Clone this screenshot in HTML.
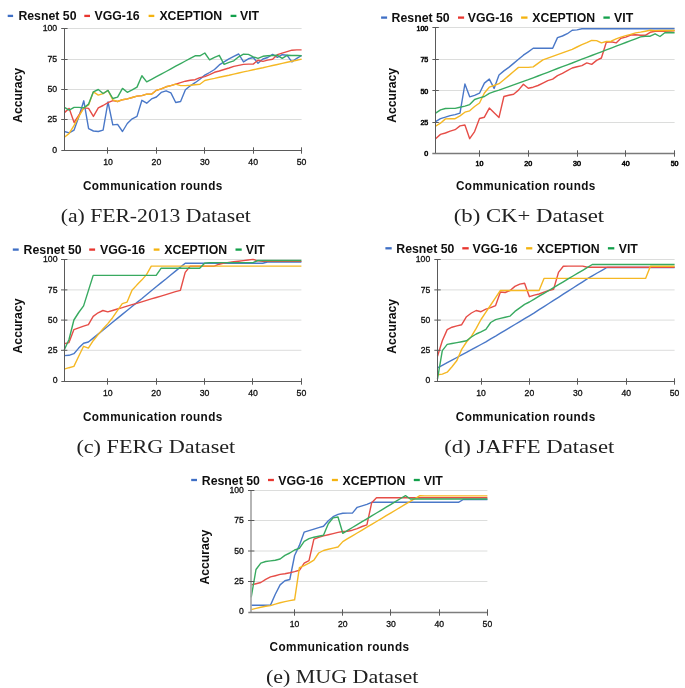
<!DOCTYPE html>
<html><head><meta charset="utf-8"><title>Accuracy vs communication rounds</title>
<style>html,body{margin:0;padding:0;background:#fff;overflow:hidden;}svg{display:block;}</style>
</head><body>
<svg width="685" height="688" viewBox="0 0 685 688">
<rect width="685" height="688" fill="#fff"/>
<g>
<line x1="64.4" y1="119.5" x2="301.6" y2="119.5" stroke="#dcdddc" stroke-width="1"/>
<line x1="64.4" y1="89.5" x2="301.6" y2="89.5" stroke="#dcdddc" stroke-width="1"/>
<line x1="64.4" y1="59.5" x2="301.6" y2="59.5" stroke="#dcdddc" stroke-width="1"/>
<line x1="64.4" y1="28.5" x2="301.6" y2="28.5" stroke="#dcdddc" stroke-width="1"/>
<text x="57.2" y="152.6" font-family="Liberation Sans" font-size="8.7" font-weight="normal" fill="#0f0f0f" stroke="#0f0f0f" stroke-width="0.3" text-anchor="end">0</text>
<text x="57.2" y="122.2" font-family="Liberation Sans" font-size="8.7" font-weight="normal" fill="#0f0f0f" stroke="#0f0f0f" stroke-width="0.3" text-anchor="end">25</text>
<text x="57.2" y="91.9" font-family="Liberation Sans" font-size="8.7" font-weight="normal" fill="#0f0f0f" stroke="#0f0f0f" stroke-width="0.3" text-anchor="end">50</text>
<text x="57.2" y="61.5" font-family="Liberation Sans" font-size="8.7" font-weight="normal" fill="#0f0f0f" stroke="#0f0f0f" stroke-width="0.3" text-anchor="end">75</text>
<text x="57.2" y="31.1" font-family="Liberation Sans" font-size="8.7" font-weight="normal" fill="#0f0f0f" stroke="#0f0f0f" stroke-width="0.3" text-anchor="end">100</text>
<text x="108.0" y="165.1" font-family="Liberation Sans" font-size="8.7" font-weight="normal" fill="#0f0f0f" stroke="#0f0f0f" stroke-width="0.3" text-anchor="middle">10</text>
<text x="156.4" y="165.1" font-family="Liberation Sans" font-size="8.7" font-weight="normal" fill="#0f0f0f" stroke="#0f0f0f" stroke-width="0.3" text-anchor="middle">20</text>
<text x="204.8" y="165.1" font-family="Liberation Sans" font-size="8.7" font-weight="normal" fill="#0f0f0f" stroke="#0f0f0f" stroke-width="0.3" text-anchor="middle">30</text>
<text x="253.2" y="165.1" font-family="Liberation Sans" font-size="8.7" font-weight="normal" fill="#0f0f0f" stroke="#0f0f0f" stroke-width="0.3" text-anchor="middle">40</text>
<text x="301.6" y="165.1" font-family="Liberation Sans" font-size="8.7" font-weight="normal" fill="#0f0f0f" stroke="#0f0f0f" stroke-width="0.3" text-anchor="middle">50</text>
<polyline points="64.4,131.5 69.2,132.9 74.1,130.1 78.9,116.4 83.8,100.8 88.6,128.7 93.4,131.0 98.3,131.5 103.1,130.1 108.0,102.0 112.8,124.9 117.6,124.4 122.5,131.5 127.3,123.5 132.2,118.8 137.0,116.4 141.9,100.3 146.7,103.2 151.5,98.9 156.4,97.0 161.2,92.4 166.1,90.8 170.9,92.9 175.7,102.5 180.6,101.5 185.4,89.8 190.3,85.8 195.1,82.7 199.9,79.2 204.8,75.1 209.6,72.5 214.5,69.5 219.3,64.9 224.1,61.9 229.0,58.8 233.8,56.3 238.7,54.0 243.5,61.9 248.4,58.8 253.2,57.5 258.0,63.3 262.9,59.0 267.7,57.5 272.6,54.4 277.4,57.3 282.2,54.7 287.1,55.3 291.9,61.9 296.8,58.3 301.6,55.5" fill="none" stroke="#4a78c8" stroke-width="1.4" stroke-linejoin="round"/>
<polyline points="64.4,112.6 69.2,108.4 74.1,122.5 78.9,115.2 83.8,107.9 88.6,108.4 93.4,116.4 98.3,107.9 103.1,105.5 108.0,102.7 112.8,100.6 117.6,101.5 122.5,99.7 127.3,98.9 132.2,97.5 137.0,96.1 141.9,95.6 146.7,94.2 151.5,94.2 156.4,90.3 161.2,88.8 166.1,86.8 170.9,85.6 175.7,84.2 180.6,82.7 185.4,81.2 190.3,80.2 195.1,79.7 199.9,77.6 204.8,76.6 209.6,74.6 214.5,72.3 219.3,71.0 224.1,69.5 229.0,68.0 233.8,66.4 238.7,65.4 243.5,64.4 248.4,64.1 253.2,64.1 258.0,60.3 262.9,61.4 267.7,60.1 272.6,59.3 277.4,54.7 282.2,53.2 287.1,51.7 291.9,50.2 296.8,49.9 301.6,49.9" fill="none" stroke="#e64d47" stroke-width="1.4" stroke-linejoin="round"/>
<polyline points="64.4,137.2 69.2,133.4 74.1,125.4 78.9,116.4 83.8,107.9 88.6,105.0 93.4,91.8 98.3,95.1 103.1,93.6 108.0,90.5 112.8,99.9 117.6,101.5 122.5,99.7 127.3,98.9 132.2,97.5 137.0,96.1 141.9,95.6 146.7,94.2 151.5,94.2 156.4,90.3 161.2,88.8 166.1,86.8 170.9,85.6 175.7,84.2 180.6,85.6 185.4,85.6 190.3,85.3 195.1,84.7 199.9,84.2 204.8,80.5 209.6,79.4 214.5,78.4 219.3,77.3 224.1,76.2 229.0,75.2 233.8,74.1 238.7,73.0 243.5,71.9 248.4,70.9 253.2,69.8 258.0,68.7 262.9,67.7 267.7,66.6 272.6,65.5 277.4,64.5 282.2,63.4 287.1,62.3 291.9,61.2 296.8,60.2 301.6,59.1" fill="none" stroke="#f5b824" stroke-width="1.4" stroke-linejoin="round"/>
<polyline points="64.4,107.4 69.2,110.1 74.1,107.4 78.9,107.4 83.8,107.9 88.6,104.1 93.4,91.8 98.3,89.5 103.1,93.5 108.0,90.4 112.8,98.5 117.6,97.1 122.5,88.4 127.3,92.3 132.2,89.9 137.0,87.1 141.9,75.7 146.7,81.9 151.5,79.3 156.4,76.7 161.2,74.1 166.1,71.5 170.9,68.9 175.7,66.2 180.6,63.6 185.4,61.0 190.3,58.4 195.1,55.8 199.9,55.8 204.8,53.0 209.6,59.8 214.5,57.3 219.3,55.3 224.1,64.4 229.0,62.4 233.8,60.8 238.7,56.8 243.5,54.2 248.4,54.4 253.2,56.8 258.0,58.4 262.9,56.3 267.7,55.8 272.6,55.5 277.4,55.3 282.2,58.3 287.1,55.3 291.9,55.5 296.8,55.5 301.6,55.8" fill="none" stroke="#38aa60" stroke-width="1.4" stroke-linejoin="round"/>
<line x1="64.5" y1="28.0" x2="64.5" y2="151.0" stroke="#5a5a5a" stroke-width="1.0"/>
<line x1="61.3" y1="150.5" x2="302.1" y2="150.5" stroke="#5a5a5a" stroke-width="1"/>
<line x1="61.2" y1="119.5" x2="67.6" y2="119.5" stroke="#5a5a5a" stroke-width="1"/>
<line x1="61.2" y1="89.5" x2="67.6" y2="89.5" stroke="#5a5a5a" stroke-width="1"/>
<line x1="61.2" y1="59.5" x2="67.6" y2="59.5" stroke="#5a5a5a" stroke-width="1"/>
<line x1="61.2" y1="28.5" x2="67.6" y2="28.5" stroke="#5a5a5a" stroke-width="1"/>
<line x1="107.5" y1="147.3" x2="107.5" y2="153.7" stroke="#5a5a5a" stroke-width="1"/>
<line x1="156.5" y1="147.3" x2="156.5" y2="153.7" stroke="#5a5a5a" stroke-width="1"/>
<line x1="204.5" y1="147.3" x2="204.5" y2="153.7" stroke="#5a5a5a" stroke-width="1"/>
<line x1="253.5" y1="147.3" x2="253.5" y2="153.7" stroke="#5a5a5a" stroke-width="1"/>
<line x1="301.5" y1="147.3" x2="301.5" y2="153.7" stroke="#5a5a5a" stroke-width="1"/>
<line x1="7.7" y1="15.9" x2="13.1" y2="15.9" stroke="#3f6fc5" stroke-width="2.3"/>
<text x="18.4" y="20.1" font-family="Liberation Sans" font-size="12.3" font-weight="bold" fill="#0f0f0f">Resnet 50</text>
<line x1="84.3" y1="15.9" x2="90.0" y2="15.9" stroke="#e8362f" stroke-width="2.3"/>
<text x="94.5" y="20.1" font-family="Liberation Sans" font-size="12.3" font-weight="bold" fill="#0f0f0f">VGG-16</text>
<line x1="148.6" y1="15.9" x2="154.3" y2="15.9" stroke="#f4b30f" stroke-width="2.3"/>
<text x="159.4" y="20.1" font-family="Liberation Sans" font-size="12.3" font-weight="bold" fill="#0f0f0f">XCEPTION</text>
<line x1="230.6" y1="15.9" x2="236.4" y2="15.9" stroke="#13a04b" stroke-width="2.3"/>
<text x="240.0" y="20.1" font-family="Liberation Sans" font-size="12.3" font-weight="bold" fill="#0f0f0f">VIT</text>
<text transform="translate(21.9,95.3) rotate(-90)" font-family="Liberation Sans" font-size="12.2" font-weight="bold" fill="#0f0f0f" text-anchor="middle">Accuracy</text>
<text transform="translate(82.9,189.7) scale(0.94,1)" x="0" y="0" font-family="Liberation Sans" font-size="12.5" font-weight="bold" fill="#0f0f0f" textLength="148.3" lengthAdjust="spacing">Communication rounds</text>
<text x="60.7" y="221.8" font-family="Liberation Serif" font-size="18" fill="#222" textLength="190.1" lengthAdjust="spacingAndGlyphs">(a) FER-2013 Dataset</text>
</g>
<g>
<line x1="435.6" y1="122.5" x2="674.6" y2="122.5" stroke="#dcdddc" stroke-width="1"/>
<line x1="435.6" y1="90.5" x2="674.6" y2="90.5" stroke="#dcdddc" stroke-width="1"/>
<line x1="435.6" y1="59.5" x2="674.6" y2="59.5" stroke="#dcdddc" stroke-width="1"/>
<line x1="435.6" y1="27.5" x2="674.6" y2="27.5" stroke="#dcdddc" stroke-width="1"/>
<text x="428.3" y="156.4" font-family="Liberation Sans" font-size="7.1" font-weight="normal" fill="#0f0f0f" stroke="#0f0f0f" stroke-width="0.6" text-anchor="end">0</text>
<text x="428.3" y="125.0" font-family="Liberation Sans" font-size="7.1" font-weight="normal" fill="#0f0f0f" stroke="#0f0f0f" stroke-width="0.6" text-anchor="end">25</text>
<text x="428.3" y="93.5" font-family="Liberation Sans" font-size="7.1" font-weight="normal" fill="#0f0f0f" stroke="#0f0f0f" stroke-width="0.6" text-anchor="end">50</text>
<text x="428.3" y="62.1" font-family="Liberation Sans" font-size="7.1" font-weight="normal" fill="#0f0f0f" stroke="#0f0f0f" stroke-width="0.6" text-anchor="end">75</text>
<text x="428.3" y="30.7" font-family="Liberation Sans" font-size="7.1" font-weight="normal" fill="#0f0f0f" stroke="#0f0f0f" stroke-width="0.6" text-anchor="end">100</text>
<text x="479.5" y="165.9" font-family="Liberation Sans" font-size="7.1" font-weight="normal" fill="#0f0f0f" stroke="#0f0f0f" stroke-width="0.6" text-anchor="middle">10</text>
<text x="528.3" y="165.9" font-family="Liberation Sans" font-size="7.1" font-weight="normal" fill="#0f0f0f" stroke="#0f0f0f" stroke-width="0.6" text-anchor="middle">20</text>
<text x="577.0" y="165.9" font-family="Liberation Sans" font-size="7.1" font-weight="normal" fill="#0f0f0f" stroke="#0f0f0f" stroke-width="0.6" text-anchor="middle">30</text>
<text x="625.8" y="165.9" font-family="Liberation Sans" font-size="7.1" font-weight="normal" fill="#0f0f0f" stroke="#0f0f0f" stroke-width="0.6" text-anchor="middle">40</text>
<text x="674.6" y="165.9" font-family="Liberation Sans" font-size="7.1" font-weight="normal" fill="#0f0f0f" stroke="#0f0f0f" stroke-width="0.6" text-anchor="middle">50</text>
<polyline points="435.6,121.7 440.5,118.7 445.4,117.2 450.2,115.6 455.1,114.6 460.0,113.1 464.9,84.0 469.7,96.8 474.6,95.3 479.5,93.2 484.4,83.1 489.3,79.1 494.1,88.4 499.0,75.0 503.9,70.9 508.8,67.4 513.6,63.4 518.5,59.3 523.4,55.2 528.3,51.8 533.2,48.3 538.0,48.3 542.9,48.3 547.8,48.3 552.7,48.3 557.5,37.6 562.4,36.0 567.3,33.7 572.2,30.2 577.0,29.9 581.9,28.8 586.8,28.8 591.7,28.8 596.6,28.8 601.4,28.8 606.3,28.8 611.2,28.8 616.1,28.8 620.9,28.8 625.8,28.8 630.7,28.8 635.6,28.8 640.5,28.8 645.3,28.8 650.2,28.8 655.1,28.8 660.0,28.8 664.8,28.8 669.7,28.8 674.6,28.8" fill="none" stroke="#4a78c8" stroke-width="1.4" stroke-linejoin="round"/>
<polyline points="435.6,138.7 440.5,134.4 445.4,133.0 450.2,131.1 455.1,129.7 460.0,125.9 464.9,125.0 469.7,138.7 474.6,131.6 479.5,118.5 484.4,117.2 489.3,108.1 494.1,112.8 499.0,117.4 503.9,96.5 508.8,95.3 513.6,94.2 518.5,90.1 523.4,84.3 528.3,88.2 533.2,87.2 538.0,85.5 542.9,83.1 547.8,80.6 552.7,79.1 557.5,75.6 562.4,73.3 567.3,70.7 572.2,68.0 577.0,66.8 581.9,65.6 586.8,62.9 591.7,64.4 596.6,60.4 601.4,58.0 606.3,42.3 611.2,41.8 616.1,42.9 620.9,38.3 625.8,37.1 630.7,35.0 635.6,34.7 640.5,35.3 645.3,35.3 650.2,32.3 655.1,31.2 660.0,31.2 664.8,31.2 669.7,31.0 674.6,30.8" fill="none" stroke="#e64d47" stroke-width="1.4" stroke-linejoin="round"/>
<polyline points="435.6,126.1 440.5,123.2 445.4,118.9 450.2,118.8 455.1,118.7 460.0,115.9 464.9,112.2 469.7,110.8 474.6,106.5 479.5,103.0 484.4,93.0 489.3,87.2 494.1,85.5 499.0,83.7 503.9,79.7 508.8,75.6 513.6,71.5 518.5,67.4 523.4,67.4 528.3,67.4 533.2,66.9 538.0,63.4 542.9,59.9 547.8,58.1 552.7,56.4 557.5,54.7 562.4,52.9 567.3,51.2 572.2,49.4 577.0,47.0 581.9,44.7 586.8,42.7 591.7,40.4 596.6,40.6 601.4,42.9 606.3,41.5 611.2,41.2 616.1,38.9 620.9,37.1 625.8,35.7 630.7,34.3 635.6,32.9 640.5,32.1 645.3,31.2 650.2,30.3 655.1,30.6 660.0,30.5 664.8,30.5 669.7,30.5 674.6,30.5" fill="none" stroke="#f5b824" stroke-width="1.4" stroke-linejoin="round"/>
<polyline points="435.6,113.2 440.5,109.9 445.4,108.5 450.2,108.4 455.1,108.4 460.0,107.3 464.9,106.1 469.7,104.6 474.6,99.5 479.5,97.9 484.4,96.5 489.3,93.3 494.1,91.6 499.0,90.1 503.9,88.4 508.8,86.6 513.6,84.9 518.5,83.1 523.4,81.4 528.3,79.7 533.2,77.8 538.0,76.0 542.9,74.1 547.8,72.3 552.7,70.4 557.5,68.5 562.4,66.7 567.3,64.8 572.2,63.0 577.0,61.1 581.9,59.2 586.8,57.4 591.7,55.5 596.6,53.6 601.4,51.8 606.3,49.9 611.2,48.1 616.1,46.2 620.9,44.3 625.8,42.5 630.7,40.6 635.6,38.8 640.5,36.9 645.3,36.2 650.2,36.2 655.1,33.8 660.0,36.5 664.8,32.7 669.7,32.5 674.6,32.7" fill="none" stroke="#38aa60" stroke-width="1.4" stroke-linejoin="round"/>
<line x1="435.5" y1="27.0" x2="435.5" y2="154.0" stroke="#5a5a5a" stroke-width="1.0"/>
<line x1="432.3" y1="153.5" x2="675.1" y2="153.5" stroke="#7a7a7a" stroke-width="1.3"/>
<line x1="432.4" y1="122.5" x2="438.8" y2="122.5" stroke="#5a5a5a" stroke-width="1"/>
<line x1="432.4" y1="90.5" x2="438.8" y2="90.5" stroke="#5a5a5a" stroke-width="1"/>
<line x1="432.4" y1="59.5" x2="438.8" y2="59.5" stroke="#5a5a5a" stroke-width="1"/>
<line x1="432.4" y1="27.5" x2="438.8" y2="27.5" stroke="#5a5a5a" stroke-width="1"/>
<line x1="479.5" y1="150.3" x2="479.5" y2="156.7" stroke="#5a5a5a" stroke-width="1"/>
<line x1="528.5" y1="150.3" x2="528.5" y2="156.7" stroke="#5a5a5a" stroke-width="1"/>
<line x1="577.5" y1="150.3" x2="577.5" y2="156.7" stroke="#5a5a5a" stroke-width="1"/>
<line x1="625.5" y1="150.3" x2="625.5" y2="156.7" stroke="#5a5a5a" stroke-width="1"/>
<line x1="674.5" y1="150.3" x2="674.5" y2="156.7" stroke="#5a5a5a" stroke-width="1"/>
<line x1="381.1" y1="17.6" x2="387.1" y2="17.6" stroke="#3f6fc5" stroke-width="2.3"/>
<text x="391.6" y="21.9" font-family="Liberation Sans" font-size="12.3" font-weight="bold" fill="#0f0f0f">Resnet 50</text>
<line x1="458.0" y1="17.6" x2="464.1" y2="17.6" stroke="#e8362f" stroke-width="2.3"/>
<text x="467.8" y="21.9" font-family="Liberation Sans" font-size="12.3" font-weight="bold" fill="#0f0f0f">VGG-16</text>
<line x1="521.1" y1="17.6" x2="527.5" y2="17.6" stroke="#f4b30f" stroke-width="2.3"/>
<text x="532.3" y="21.9" font-family="Liberation Sans" font-size="12.3" font-weight="bold" fill="#0f0f0f">XCEPTION</text>
<line x1="603.4" y1="17.6" x2="609.8" y2="17.6" stroke="#13a04b" stroke-width="2.3"/>
<text x="614.1" y="21.9" font-family="Liberation Sans" font-size="12.3" font-weight="bold" fill="#0f0f0f">VIT</text>
<text transform="translate(395.6,95.3) rotate(-90)" font-family="Liberation Sans" font-size="12.2" font-weight="bold" fill="#0f0f0f" text-anchor="middle">Accuracy</text>
<text transform="translate(456.0,190.2) scale(0.94,1)" x="0" y="0" font-family="Liberation Sans" font-size="12.5" font-weight="bold" fill="#0f0f0f" textLength="148.3" lengthAdjust="spacing">Communication rounds</text>
<text x="453.7" y="221.8" font-family="Liberation Serif" font-size="18" fill="#222" textLength="150.5" lengthAdjust="spacingAndGlyphs">(b) CK+ Dataset</text>
</g>
<g>
<line x1="64.2" y1="350.3" x2="301.4" y2="350.3" stroke="#dcdddc" stroke-width="1"/>
<line x1="64.2" y1="320.1" x2="301.4" y2="320.1" stroke="#dcdddc" stroke-width="1"/>
<line x1="64.2" y1="289.9" x2="301.4" y2="289.9" stroke="#dcdddc" stroke-width="1"/>
<line x1="64.2" y1="259.5" x2="301.4" y2="259.5" stroke="#dcdddc" stroke-width="1"/>
<text x="57.5" y="383.4" font-family="Liberation Sans" font-size="8.7" font-weight="normal" fill="#0f0f0f" stroke="#0f0f0f" stroke-width="0.3" text-anchor="end">0</text>
<text x="57.5" y="353.1" font-family="Liberation Sans" font-size="8.7" font-weight="normal" fill="#0f0f0f" stroke="#0f0f0f" stroke-width="0.3" text-anchor="end">25</text>
<text x="57.5" y="322.8" font-family="Liberation Sans" font-size="8.7" font-weight="normal" fill="#0f0f0f" stroke="#0f0f0f" stroke-width="0.3" text-anchor="end">50</text>
<text x="57.5" y="292.5" font-family="Liberation Sans" font-size="8.7" font-weight="normal" fill="#0f0f0f" stroke="#0f0f0f" stroke-width="0.3" text-anchor="end">75</text>
<text x="57.5" y="262.2" font-family="Liberation Sans" font-size="8.7" font-weight="normal" fill="#0f0f0f" stroke="#0f0f0f" stroke-width="0.3" text-anchor="end">100</text>
<text x="107.8" y="396.2" font-family="Liberation Sans" font-size="8.7" font-weight="normal" fill="#0f0f0f" stroke="#0f0f0f" stroke-width="0.3" text-anchor="middle">10</text>
<text x="156.2" y="396.2" font-family="Liberation Sans" font-size="8.7" font-weight="normal" fill="#0f0f0f" stroke="#0f0f0f" stroke-width="0.3" text-anchor="middle">20</text>
<text x="204.6" y="396.2" font-family="Liberation Sans" font-size="8.7" font-weight="normal" fill="#0f0f0f" stroke="#0f0f0f" stroke-width="0.3" text-anchor="middle">30</text>
<text x="253.0" y="396.2" font-family="Liberation Sans" font-size="8.7" font-weight="normal" fill="#0f0f0f" stroke="#0f0f0f" stroke-width="0.3" text-anchor="middle">40</text>
<text x="301.4" y="396.2" font-family="Liberation Sans" font-size="8.7" font-weight="normal" fill="#0f0f0f" stroke="#0f0f0f" stroke-width="0.3" text-anchor="middle">50</text>
<polyline points="64.2,355.6 69.0,355.3 73.9,353.7 78.7,348.1 83.6,343.2 88.4,342.0 93.2,338.1 98.1,334.1 102.9,330.2 107.8,326.2 112.6,322.3 117.4,318.4 122.3,314.4 127.1,310.5 132.0,306.5 136.8,302.6 141.7,298.7 146.5,294.7 151.3,290.8 156.2,286.8 161.0,282.9 165.9,279.0 170.7,275.0 175.5,271.1 180.4,267.1 185.2,263.2 190.1,263.2 194.9,263.2 199.7,263.2 204.6,263.2 209.4,263.2 214.3,263.2 219.1,263.2 223.9,263.2 228.8,263.2 233.6,263.2 238.5,263.2 243.3,263.2 248.2,263.2 253.0,263.2 257.8,263.2 262.7,263.2 267.5,262.0 272.4,262.0 277.2,262.0 282.0,262.0 286.9,262.0 291.7,262.0 296.6,262.0 301.4,262.0" fill="none" stroke="#4a78c8" stroke-width="1.4" stroke-linejoin="round"/>
<polyline points="64.2,343.8 69.0,342.6 73.9,329.6 78.7,327.8 83.6,326.2 88.4,324.7 93.2,316.4 98.1,312.8 102.9,310.5 107.8,311.9 112.6,310.5 117.4,309.0 122.3,307.6 127.1,306.1 132.0,304.7 136.8,303.3 141.7,301.8 146.5,300.4 151.3,298.9 156.2,297.5 161.0,296.1 165.9,294.6 170.7,293.2 175.5,291.7 180.4,290.3 185.2,272.4 190.1,266.2 194.9,266.2 199.7,266.2 204.6,266.2 209.4,266.2 214.3,266.2 219.1,264.2 223.9,263.1 228.8,262.4 233.6,261.8 238.5,261.2 243.3,260.6 248.2,260.0 253.0,259.4 257.8,260.9 262.7,261.4 267.5,261.4 272.4,261.4 277.2,261.4 282.0,261.4 286.9,261.4 291.7,261.4 296.6,261.4 301.4,261.4" fill="none" stroke="#e64d47" stroke-width="1.4" stroke-linejoin="round"/>
<polyline points="64.2,369.1 69.0,367.7 73.9,366.4 78.7,356.2 83.6,346.3 88.4,348.1 93.2,340.7 98.1,334.6 102.9,329.0 107.8,323.6 112.6,317.7 117.4,310.6 122.3,303.6 127.1,302.1 132.0,290.3 136.8,285.1 141.7,280.1 146.5,274.6 151.3,266.1 156.2,266.1 161.0,266.1 165.9,266.1 170.7,266.1 175.5,266.1 180.4,266.1 185.2,266.1 190.1,266.1 194.9,266.1 199.7,266.1 204.6,266.1 209.4,266.1 214.3,266.1 219.1,266.1 223.9,266.1 228.8,266.1 233.6,266.1 238.5,266.1 243.3,266.1 248.2,266.1 253.0,266.1 257.8,266.1 262.7,266.1 267.5,266.1 272.4,266.1 277.2,266.1 282.0,266.1 286.9,266.1 291.7,266.1 296.6,266.1 301.4,266.1" fill="none" stroke="#f5b824" stroke-width="1.4" stroke-linejoin="round"/>
<polyline points="64.2,350.0 69.0,339.5 73.9,320.0 78.7,312.5 83.6,305.9 88.4,290.6 93.2,275.4 98.1,275.4 102.9,275.4 107.8,275.4 112.6,275.4 117.4,275.4 122.3,275.4 127.1,275.4 132.0,275.4 136.8,275.4 141.7,275.4 146.5,275.4 151.3,275.4 156.2,275.4 161.0,268.3 165.9,268.3 170.7,268.3 175.5,268.3 180.4,268.3 185.2,268.3 190.1,268.3 194.9,268.3 199.7,268.3 204.6,263.2 209.4,262.6 214.3,262.6 219.1,262.6 223.9,262.6 228.8,262.6 233.6,262.6 238.5,262.6 243.3,262.6 248.2,262.6 253.0,262.6 257.8,260.5 262.7,260.5 267.5,260.5 272.4,260.5 277.2,260.5 282.0,260.5 286.9,260.5 291.7,260.5 296.6,260.5 301.4,260.5" fill="none" stroke="#38aa60" stroke-width="1.4" stroke-linejoin="round"/>
<line x1="64.5" y1="259.0" x2="64.5" y2="382.0" stroke="#5a5a5a" stroke-width="1.0"/>
<line x1="61.3" y1="381.5" x2="301.9" y2="381.5" stroke="#5a5a5a" stroke-width="1"/>
<line x1="61.0" y1="350.3" x2="67.4" y2="350.3" stroke="#5a5a5a" stroke-width="1"/>
<line x1="61.0" y1="320.1" x2="67.4" y2="320.1" stroke="#5a5a5a" stroke-width="1"/>
<line x1="61.0" y1="289.9" x2="67.4" y2="289.9" stroke="#5a5a5a" stroke-width="1"/>
<line x1="61.0" y1="259.5" x2="67.4" y2="259.5" stroke="#5a5a5a" stroke-width="1"/>
<line x1="107.5" y1="378.3" x2="107.5" y2="384.7" stroke="#5a5a5a" stroke-width="1"/>
<line x1="156.5" y1="378.3" x2="156.5" y2="384.7" stroke="#5a5a5a" stroke-width="1"/>
<line x1="204.5" y1="378.3" x2="204.5" y2="384.7" stroke="#5a5a5a" stroke-width="1"/>
<line x1="252.5" y1="378.3" x2="252.5" y2="384.7" stroke="#5a5a5a" stroke-width="1"/>
<line x1="301.5" y1="378.3" x2="301.5" y2="384.7" stroke="#5a5a5a" stroke-width="1"/>
<line x1="12.8" y1="249.6" x2="18.7" y2="249.6" stroke="#3f6fc5" stroke-width="2.3"/>
<text x="23.6" y="253.6" font-family="Liberation Sans" font-size="12.3" font-weight="bold" fill="#0f0f0f">Resnet 50</text>
<line x1="89.2" y1="249.6" x2="95.1" y2="249.6" stroke="#e8362f" stroke-width="2.3"/>
<text x="100.0" y="253.6" font-family="Liberation Sans" font-size="12.3" font-weight="bold" fill="#0f0f0f">VGG-16</text>
<line x1="153.7" y1="249.6" x2="159.5" y2="249.6" stroke="#f4b30f" stroke-width="2.3"/>
<text x="164.3" y="253.6" font-family="Liberation Sans" font-size="12.3" font-weight="bold" fill="#0f0f0f">XCEPTION</text>
<line x1="235.5" y1="249.6" x2="241.7" y2="249.6" stroke="#13a04b" stroke-width="2.3"/>
<text x="245.7" y="253.6" font-family="Liberation Sans" font-size="12.3" font-weight="bold" fill="#0f0f0f">VIT</text>
<text transform="translate(21.8,326.0) rotate(-90)" font-family="Liberation Sans" font-size="12.2" font-weight="bold" fill="#0f0f0f" text-anchor="middle">Accuracy</text>
<text transform="translate(82.9,420.9) scale(0.94,1)" x="0" y="0" font-family="Liberation Sans" font-size="12.5" font-weight="bold" fill="#0f0f0f" textLength="148.3" lengthAdjust="spacing">Communication rounds</text>
<text x="76.4" y="453.1" font-family="Liberation Serif" font-size="18" fill="#222" textLength="158.9" lengthAdjust="spacingAndGlyphs">(c) FERG Dataset</text>
</g>
<g>
<line x1="437.5" y1="350.3" x2="674.6" y2="350.3" stroke="#dcdddc" stroke-width="1"/>
<line x1="437.5" y1="320.1" x2="674.6" y2="320.1" stroke="#dcdddc" stroke-width="1"/>
<line x1="437.5" y1="289.9" x2="674.6" y2="289.9" stroke="#dcdddc" stroke-width="1"/>
<line x1="437.5" y1="259.5" x2="674.6" y2="259.5" stroke="#dcdddc" stroke-width="1"/>
<text x="430.2" y="383.3" font-family="Liberation Sans" font-size="8.6" font-weight="normal" fill="#0f0f0f" stroke="#0f0f0f" stroke-width="0.3" text-anchor="end">0</text>
<text x="430.2" y="353.0" font-family="Liberation Sans" font-size="8.6" font-weight="normal" fill="#0f0f0f" stroke="#0f0f0f" stroke-width="0.3" text-anchor="end">25</text>
<text x="430.2" y="322.7" font-family="Liberation Sans" font-size="8.6" font-weight="normal" fill="#0f0f0f" stroke="#0f0f0f" stroke-width="0.3" text-anchor="end">50</text>
<text x="430.2" y="292.5" font-family="Liberation Sans" font-size="8.6" font-weight="normal" fill="#0f0f0f" stroke="#0f0f0f" stroke-width="0.3" text-anchor="end">75</text>
<text x="430.2" y="262.2" font-family="Liberation Sans" font-size="8.6" font-weight="normal" fill="#0f0f0f" stroke="#0f0f0f" stroke-width="0.3" text-anchor="end">100</text>
<text x="481.0" y="396.0" font-family="Liberation Sans" font-size="8.6" font-weight="normal" fill="#0f0f0f" stroke="#0f0f0f" stroke-width="0.3" text-anchor="middle">10</text>
<text x="529.4" y="396.0" font-family="Liberation Sans" font-size="8.6" font-weight="normal" fill="#0f0f0f" stroke="#0f0f0f" stroke-width="0.3" text-anchor="middle">20</text>
<text x="577.8" y="396.0" font-family="Liberation Sans" font-size="8.6" font-weight="normal" fill="#0f0f0f" stroke="#0f0f0f" stroke-width="0.3" text-anchor="middle">30</text>
<text x="626.2" y="396.0" font-family="Liberation Sans" font-size="8.6" font-weight="normal" fill="#0f0f0f" stroke="#0f0f0f" stroke-width="0.3" text-anchor="middle">40</text>
<text x="674.6" y="396.0" font-family="Liberation Sans" font-size="8.6" font-weight="normal" fill="#0f0f0f" stroke="#0f0f0f" stroke-width="0.3" text-anchor="middle">50</text>
<polyline points="437.5,367.9 442.3,365.3 447.2,362.7 452.0,360.1 456.9,357.5 461.7,354.9 466.5,352.3 471.4,349.7 476.2,347.1 481.0,344.5 485.9,341.8 490.7,338.9 495.6,336.1 500.4,333.2 505.2,330.3 510.1,327.4 514.9,324.5 519.8,321.6 524.6,318.7 529.4,315.8 534.3,312.8 539.1,309.7 544.0,306.6 548.8,303.5 553.6,300.4 558.5,297.3 563.3,294.2 568.1,291.1 573.0,288.0 577.8,284.9 582.7,281.8 587.5,278.7 592.3,275.8 597.2,273.0 602.0,270.3 606.9,267.5 611.7,267.5 616.5,267.5 621.4,267.5 626.2,267.5 631.1,267.5 635.9,267.5 640.7,267.5 645.6,267.5 650.4,267.5 655.2,267.5 660.1,267.5 664.9,267.5 669.8,267.5 674.6,267.5" fill="none" stroke="#4a78c8" stroke-width="1.4" stroke-linejoin="round"/>
<polyline points="437.5,356.2 442.3,340.7 447.2,329.6 452.0,327.2 456.9,325.9 461.7,324.7 466.5,316.7 471.4,313.0 476.2,310.5 481.0,311.7 485.9,309.1 490.7,307.7 495.6,305.6 500.4,292.0 505.2,292.5 510.1,290.5 514.9,286.4 519.8,284.1 524.6,283.3 529.4,296.7 534.3,295.1 539.1,294.0 544.0,292.2 548.8,290.5 553.6,289.3 558.5,272.4 563.3,266.3 568.1,266.1 573.0,266.1 577.8,266.1 582.7,266.1 587.5,267.3 592.3,267.3 597.2,267.3 602.0,267.3 606.9,267.3 611.7,267.3 616.5,267.3 621.4,267.3 626.2,267.3 631.1,267.3 635.9,267.3 640.7,267.3 645.6,267.3 650.4,267.3 655.2,267.3 660.1,267.3 664.9,267.3 669.8,267.3 674.6,267.3" fill="none" stroke="#e64d47" stroke-width="1.4" stroke-linejoin="round"/>
<polyline points="437.5,374.7 442.3,374.1 447.2,372.2 452.0,366.7 456.9,360.5 461.7,349.4 466.5,342.0 471.4,336.4 476.2,328.4 481.0,319.5 485.9,312.2 490.7,305.0 495.6,297.7 500.4,290.5 505.2,290.5 510.1,290.5 514.9,290.5 519.8,290.5 524.6,290.5 529.4,290.5 534.3,290.5 539.1,290.5 544.0,278.4 548.8,278.4 553.6,278.4 558.5,278.4 563.3,278.4 568.1,278.4 573.0,278.4 577.8,278.4 582.7,278.4 587.5,278.4 592.3,278.4 597.2,278.4 602.0,278.4 606.9,278.4 611.7,278.4 616.5,278.4 621.4,278.4 626.2,278.4 631.1,278.4 635.9,278.4 640.7,278.4 645.6,278.4 650.4,266.2 655.2,266.2 660.1,266.2 664.9,266.2 669.8,266.2 674.6,266.2" fill="none" stroke="#f5b824" stroke-width="1.4" stroke-linejoin="round"/>
<polyline points="437.5,379.0 442.3,350.6 447.2,344.4 452.0,343.5 456.9,342.6 461.7,341.7 466.5,340.7 471.4,337.0 476.2,334.0 481.0,331.8 485.9,329.4 490.7,322.5 495.6,319.6 500.4,318.4 505.2,317.2 510.1,316.1 514.9,311.4 519.8,307.9 524.6,304.4 529.4,302.0 534.3,299.1 539.1,296.2 544.0,293.3 548.8,290.5 553.6,287.6 558.5,284.7 563.3,281.8 568.1,278.9 573.0,276.0 577.8,273.2 582.7,270.3 587.5,267.4 592.3,264.5 597.2,264.5 602.0,264.5 606.9,264.5 611.7,264.5 616.5,264.5 621.4,264.5 626.2,264.5 631.1,264.5 635.9,264.5 640.7,264.5 645.6,264.5 650.4,264.5 655.2,264.5 660.1,264.5 664.9,264.5 669.8,264.5 674.6,264.5" fill="none" stroke="#38aa60" stroke-width="1.4" stroke-linejoin="round"/>
<line x1="437.5" y1="259.0" x2="437.5" y2="382.0" stroke="#5a5a5a" stroke-width="1.0"/>
<line x1="434.3" y1="381.5" x2="675.1" y2="381.5" stroke="#5a5a5a" stroke-width="1"/>
<line x1="434.3" y1="350.3" x2="440.7" y2="350.3" stroke="#5a5a5a" stroke-width="1"/>
<line x1="434.3" y1="320.1" x2="440.7" y2="320.1" stroke="#5a5a5a" stroke-width="1"/>
<line x1="434.3" y1="289.9" x2="440.7" y2="289.9" stroke="#5a5a5a" stroke-width="1"/>
<line x1="434.3" y1="259.5" x2="440.7" y2="259.5" stroke="#5a5a5a" stroke-width="1"/>
<line x1="481.5" y1="378.3" x2="481.5" y2="384.7" stroke="#5a5a5a" stroke-width="1"/>
<line x1="529.5" y1="378.3" x2="529.5" y2="384.7" stroke="#5a5a5a" stroke-width="1"/>
<line x1="577.5" y1="378.3" x2="577.5" y2="384.7" stroke="#5a5a5a" stroke-width="1"/>
<line x1="626.5" y1="378.3" x2="626.5" y2="384.7" stroke="#5a5a5a" stroke-width="1"/>
<line x1="674.5" y1="378.3" x2="674.5" y2="384.7" stroke="#5a5a5a" stroke-width="1"/>
<line x1="385.4" y1="248.3" x2="391.7" y2="248.3" stroke="#3f6fc5" stroke-width="2.3"/>
<text x="396.3" y="252.6" font-family="Liberation Sans" font-size="12.3" font-weight="bold" fill="#0f0f0f">Resnet 50</text>
<line x1="462.3" y1="248.3" x2="468.7" y2="248.3" stroke="#e8362f" stroke-width="2.3"/>
<text x="472.5" y="252.6" font-family="Liberation Sans" font-size="12.3" font-weight="bold" fill="#0f0f0f">VGG-16</text>
<line x1="526.1" y1="248.3" x2="532.3" y2="248.3" stroke="#f4b30f" stroke-width="2.3"/>
<text x="536.8" y="252.6" font-family="Liberation Sans" font-size="12.3" font-weight="bold" fill="#0f0f0f">XCEPTION</text>
<line x1="607.9" y1="248.3" x2="614.3" y2="248.3" stroke="#13a04b" stroke-width="2.3"/>
<text x="618.7" y="252.6" font-family="Liberation Sans" font-size="12.3" font-weight="bold" fill="#0f0f0f">VIT</text>
<text transform="translate(395.8,326.3) rotate(-90)" font-family="Liberation Sans" font-size="12.2" font-weight="bold" fill="#0f0f0f" text-anchor="middle">Accuracy</text>
<text transform="translate(455.8,421.2) scale(0.94,1)" x="0" y="0" font-family="Liberation Sans" font-size="12.5" font-weight="bold" fill="#0f0f0f" textLength="148.3" lengthAdjust="spacing">Communication rounds</text>
<text x="444.3" y="453.4" font-family="Liberation Serif" font-size="18" fill="#222" textLength="170.0" lengthAdjust="spacingAndGlyphs">(d) JAFFE Dataset</text>
</g>
<g>
<line x1="251.2" y1="581.5" x2="487.4" y2="581.5" stroke="#dcdddc" stroke-width="1"/>
<line x1="251.2" y1="551.0" x2="487.4" y2="551.0" stroke="#dcdddc" stroke-width="1"/>
<line x1="251.2" y1="520.5" x2="487.4" y2="520.5" stroke="#dcdddc" stroke-width="1"/>
<line x1="251.2" y1="490.5" x2="487.4" y2="490.5" stroke="#dcdddc" stroke-width="1"/>
<text x="243.8" y="614.2" font-family="Liberation Sans" font-size="8.6" font-weight="normal" fill="#0f0f0f" stroke="#0f0f0f" stroke-width="0.3" text-anchor="end">0</text>
<text x="243.8" y="583.9" font-family="Liberation Sans" font-size="8.6" font-weight="normal" fill="#0f0f0f" stroke="#0f0f0f" stroke-width="0.3" text-anchor="end">25</text>
<text x="243.8" y="553.6" font-family="Liberation Sans" font-size="8.6" font-weight="normal" fill="#0f0f0f" stroke="#0f0f0f" stroke-width="0.3" text-anchor="end">50</text>
<text x="243.8" y="523.3" font-family="Liberation Sans" font-size="8.6" font-weight="normal" fill="#0f0f0f" stroke="#0f0f0f" stroke-width="0.3" text-anchor="end">75</text>
<text x="243.8" y="493.0" font-family="Liberation Sans" font-size="8.6" font-weight="normal" fill="#0f0f0f" stroke="#0f0f0f" stroke-width="0.3" text-anchor="end">100</text>
<text x="294.6" y="626.6" font-family="Liberation Sans" font-size="8.6" font-weight="normal" fill="#0f0f0f" stroke="#0f0f0f" stroke-width="0.3" text-anchor="middle">10</text>
<text x="342.8" y="626.6" font-family="Liberation Sans" font-size="8.6" font-weight="normal" fill="#0f0f0f" stroke="#0f0f0f" stroke-width="0.3" text-anchor="middle">20</text>
<text x="391.0" y="626.6" font-family="Liberation Sans" font-size="8.6" font-weight="normal" fill="#0f0f0f" stroke="#0f0f0f" stroke-width="0.3" text-anchor="middle">30</text>
<text x="439.2" y="626.6" font-family="Liberation Sans" font-size="8.6" font-weight="normal" fill="#0f0f0f" stroke="#0f0f0f" stroke-width="0.3" text-anchor="middle">40</text>
<text x="487.4" y="626.6" font-family="Liberation Sans" font-size="8.6" font-weight="normal" fill="#0f0f0f" stroke="#0f0f0f" stroke-width="0.3" text-anchor="middle">50</text>
<polyline points="251.2,605.3 256.0,605.3 260.8,605.3 265.7,605.3 270.5,605.1 275.3,594.2 280.1,584.9 284.9,580.7 289.8,579.5 294.6,555.5 299.4,545.4 304.2,532.1 309.0,530.6 313.9,529.1 318.7,527.6 323.5,526.3 328.3,520.8 333.1,516.7 338.0,514.4 342.8,513.2 347.6,513.1 352.4,513.1 357.2,507.3 362.1,505.8 366.9,504.4 371.7,502.3 376.5,502.3 381.4,502.3 386.2,502.3 391.0,502.3 395.8,502.3 400.6,502.3 405.5,502.3 410.3,502.3 415.1,502.3 419.9,502.3 424.7,502.3 429.6,502.3 434.4,502.3 439.2,502.3 444.0,502.3 448.8,502.3 453.7,502.3 458.5,502.3 463.3,499.5 468.1,499.5 472.9,499.5 477.8,499.5 482.6,499.5 487.4,499.5" fill="none" stroke="#4a78c8" stroke-width="1.4" stroke-linejoin="round"/>
<polyline points="251.2,584.9 256.0,583.7 260.8,582.5 265.7,579.4 270.5,576.9 275.3,575.7 280.1,574.4 284.9,573.7 289.8,572.7 294.6,571.6 299.4,570.3 304.2,563.2 309.0,560.6 313.9,539.2 318.7,537.4 323.5,535.9 328.3,534.8 333.1,533.6 338.0,532.4 342.8,531.5 347.6,531.2 352.4,530.2 357.2,528.6 362.1,526.5 366.9,524.8 371.7,502.7 376.5,497.8 381.4,497.8 386.2,497.8 391.0,497.8 395.8,497.8 400.6,497.8 405.5,497.8 410.3,497.8 415.1,497.8 419.9,497.8 424.7,497.8 429.6,497.8 434.4,497.8 439.2,497.8 444.0,497.8 448.8,497.8 453.7,497.8 458.5,497.8 463.3,497.8 468.1,497.8 472.9,497.8 477.8,497.8 482.6,497.8 487.4,497.8" fill="none" stroke="#e64d47" stroke-width="1.4" stroke-linejoin="round"/>
<polyline points="251.2,609.6 256.0,608.4 260.8,607.2 265.7,606.3 270.5,605.6 275.3,604.1 280.1,602.8 284.9,601.6 289.8,600.6 294.6,599.8 299.4,567.7 304.2,565.7 309.0,563.2 313.9,560.1 318.7,553.0 323.5,550.5 328.3,549.3 333.1,548.1 338.0,547.0 342.8,541.6 347.6,538.7 352.4,535.9 357.2,533.0 362.1,530.1 366.9,527.2 371.7,524.4 376.5,521.5 381.4,518.6 386.2,515.7 391.0,512.9 395.8,510.0 400.6,507.1 405.5,504.2 410.3,501.4 415.1,498.5 419.9,495.6 424.7,495.9 429.6,495.9 434.4,495.9 439.2,495.9 444.0,495.9 448.8,495.9 453.7,495.9 458.5,495.9 463.3,495.9 468.1,495.9 472.9,495.9 477.8,495.9 482.6,495.9 487.4,495.9" fill="none" stroke="#f5b824" stroke-width="1.4" stroke-linejoin="round"/>
<polyline points="251.2,597.3 256.0,569.5 260.8,563.1 265.7,561.5 270.5,560.9 275.3,560.2 280.1,559.0 284.9,555.4 289.8,553.0 294.6,550.0 299.4,548.4 304.2,541.3 309.0,538.7 313.9,537.2 318.7,536.3 323.5,535.3 328.3,523.7 333.1,517.9 338.0,517.0 342.8,533.3 347.6,530.4 352.4,527.5 357.2,524.6 362.1,521.7 366.9,518.8 371.7,515.9 376.5,513.0 381.4,510.1 386.2,507.2 391.0,504.3 395.8,501.4 400.6,498.5 405.5,495.6 410.3,499.0 415.1,499.0 419.9,499.0 424.7,499.0 429.6,499.0 434.4,499.0 439.2,499.0 444.0,499.0 448.8,499.0 453.7,499.0 458.5,499.0 463.3,499.0 468.1,499.0 472.9,499.0 477.8,499.0 482.6,499.0 487.4,499.0" fill="none" stroke="#38aa60" stroke-width="1.4" stroke-linejoin="round"/>
<line x1="251.0" y1="490.0" x2="251.0" y2="613.0" stroke="#a8a8a8" stroke-width="1.7"/>
<line x1="248.3" y1="612.5" x2="487.9" y2="612.5" stroke="#7d7d7d" stroke-width="1.3"/>
<line x1="248.0" y1="581.5" x2="254.4" y2="581.5" stroke="#5a5a5a" stroke-width="1"/>
<line x1="248.0" y1="551.0" x2="254.4" y2="551.0" stroke="#5a5a5a" stroke-width="1"/>
<line x1="248.0" y1="520.5" x2="254.4" y2="520.5" stroke="#5a5a5a" stroke-width="1"/>
<line x1="248.0" y1="490.5" x2="254.4" y2="490.5" stroke="#5a5a5a" stroke-width="1"/>
<line x1="294.5" y1="609.3" x2="294.5" y2="615.7" stroke="#5a5a5a" stroke-width="1"/>
<line x1="342.5" y1="609.3" x2="342.5" y2="615.7" stroke="#5a5a5a" stroke-width="1"/>
<line x1="390.5" y1="609.3" x2="390.5" y2="615.7" stroke="#5a5a5a" stroke-width="1"/>
<line x1="439.5" y1="609.3" x2="439.5" y2="615.7" stroke="#5a5a5a" stroke-width="1"/>
<line x1="487.5" y1="609.3" x2="487.5" y2="615.7" stroke="#5a5a5a" stroke-width="1"/>
<line x1="191.2" y1="480.0" x2="197.0" y2="480.0" stroke="#3f6fc5" stroke-width="2.3"/>
<text x="201.8" y="484.6" font-family="Liberation Sans" font-size="12.3" font-weight="bold" fill="#0f0f0f">Resnet 50</text>
<line x1="268.0" y1="480.0" x2="273.9" y2="480.0" stroke="#e8362f" stroke-width="2.3"/>
<text x="278.3" y="484.6" font-family="Liberation Sans" font-size="12.3" font-weight="bold" fill="#0f0f0f">VGG-16</text>
<line x1="331.9" y1="480.0" x2="337.9" y2="480.0" stroke="#f4b30f" stroke-width="2.3"/>
<text x="342.6" y="484.6" font-family="Liberation Sans" font-size="12.3" font-weight="bold" fill="#0f0f0f">XCEPTION</text>
<line x1="413.8" y1="480.0" x2="419.8" y2="480.0" stroke="#13a04b" stroke-width="2.3"/>
<text x="423.7" y="484.6" font-family="Liberation Sans" font-size="12.3" font-weight="bold" fill="#0f0f0f">VIT</text>
<text transform="translate(208.9,557.1) rotate(-90)" font-family="Liberation Sans" font-size="12.2" font-weight="bold" fill="#0f0f0f" text-anchor="middle">Accuracy</text>
<text transform="translate(269.6,651.2) scale(0.94,1)" x="0" y="0" font-family="Liberation Sans" font-size="12.5" font-weight="bold" fill="#0f0f0f" textLength="148.3" lengthAdjust="spacing">Communication rounds</text>
<text x="266.0" y="683.1" font-family="Liberation Serif" font-size="18" fill="#222" textLength="152.4" lengthAdjust="spacingAndGlyphs">(e) MUG Dataset</text>
</g>
</svg>
</body></html>
